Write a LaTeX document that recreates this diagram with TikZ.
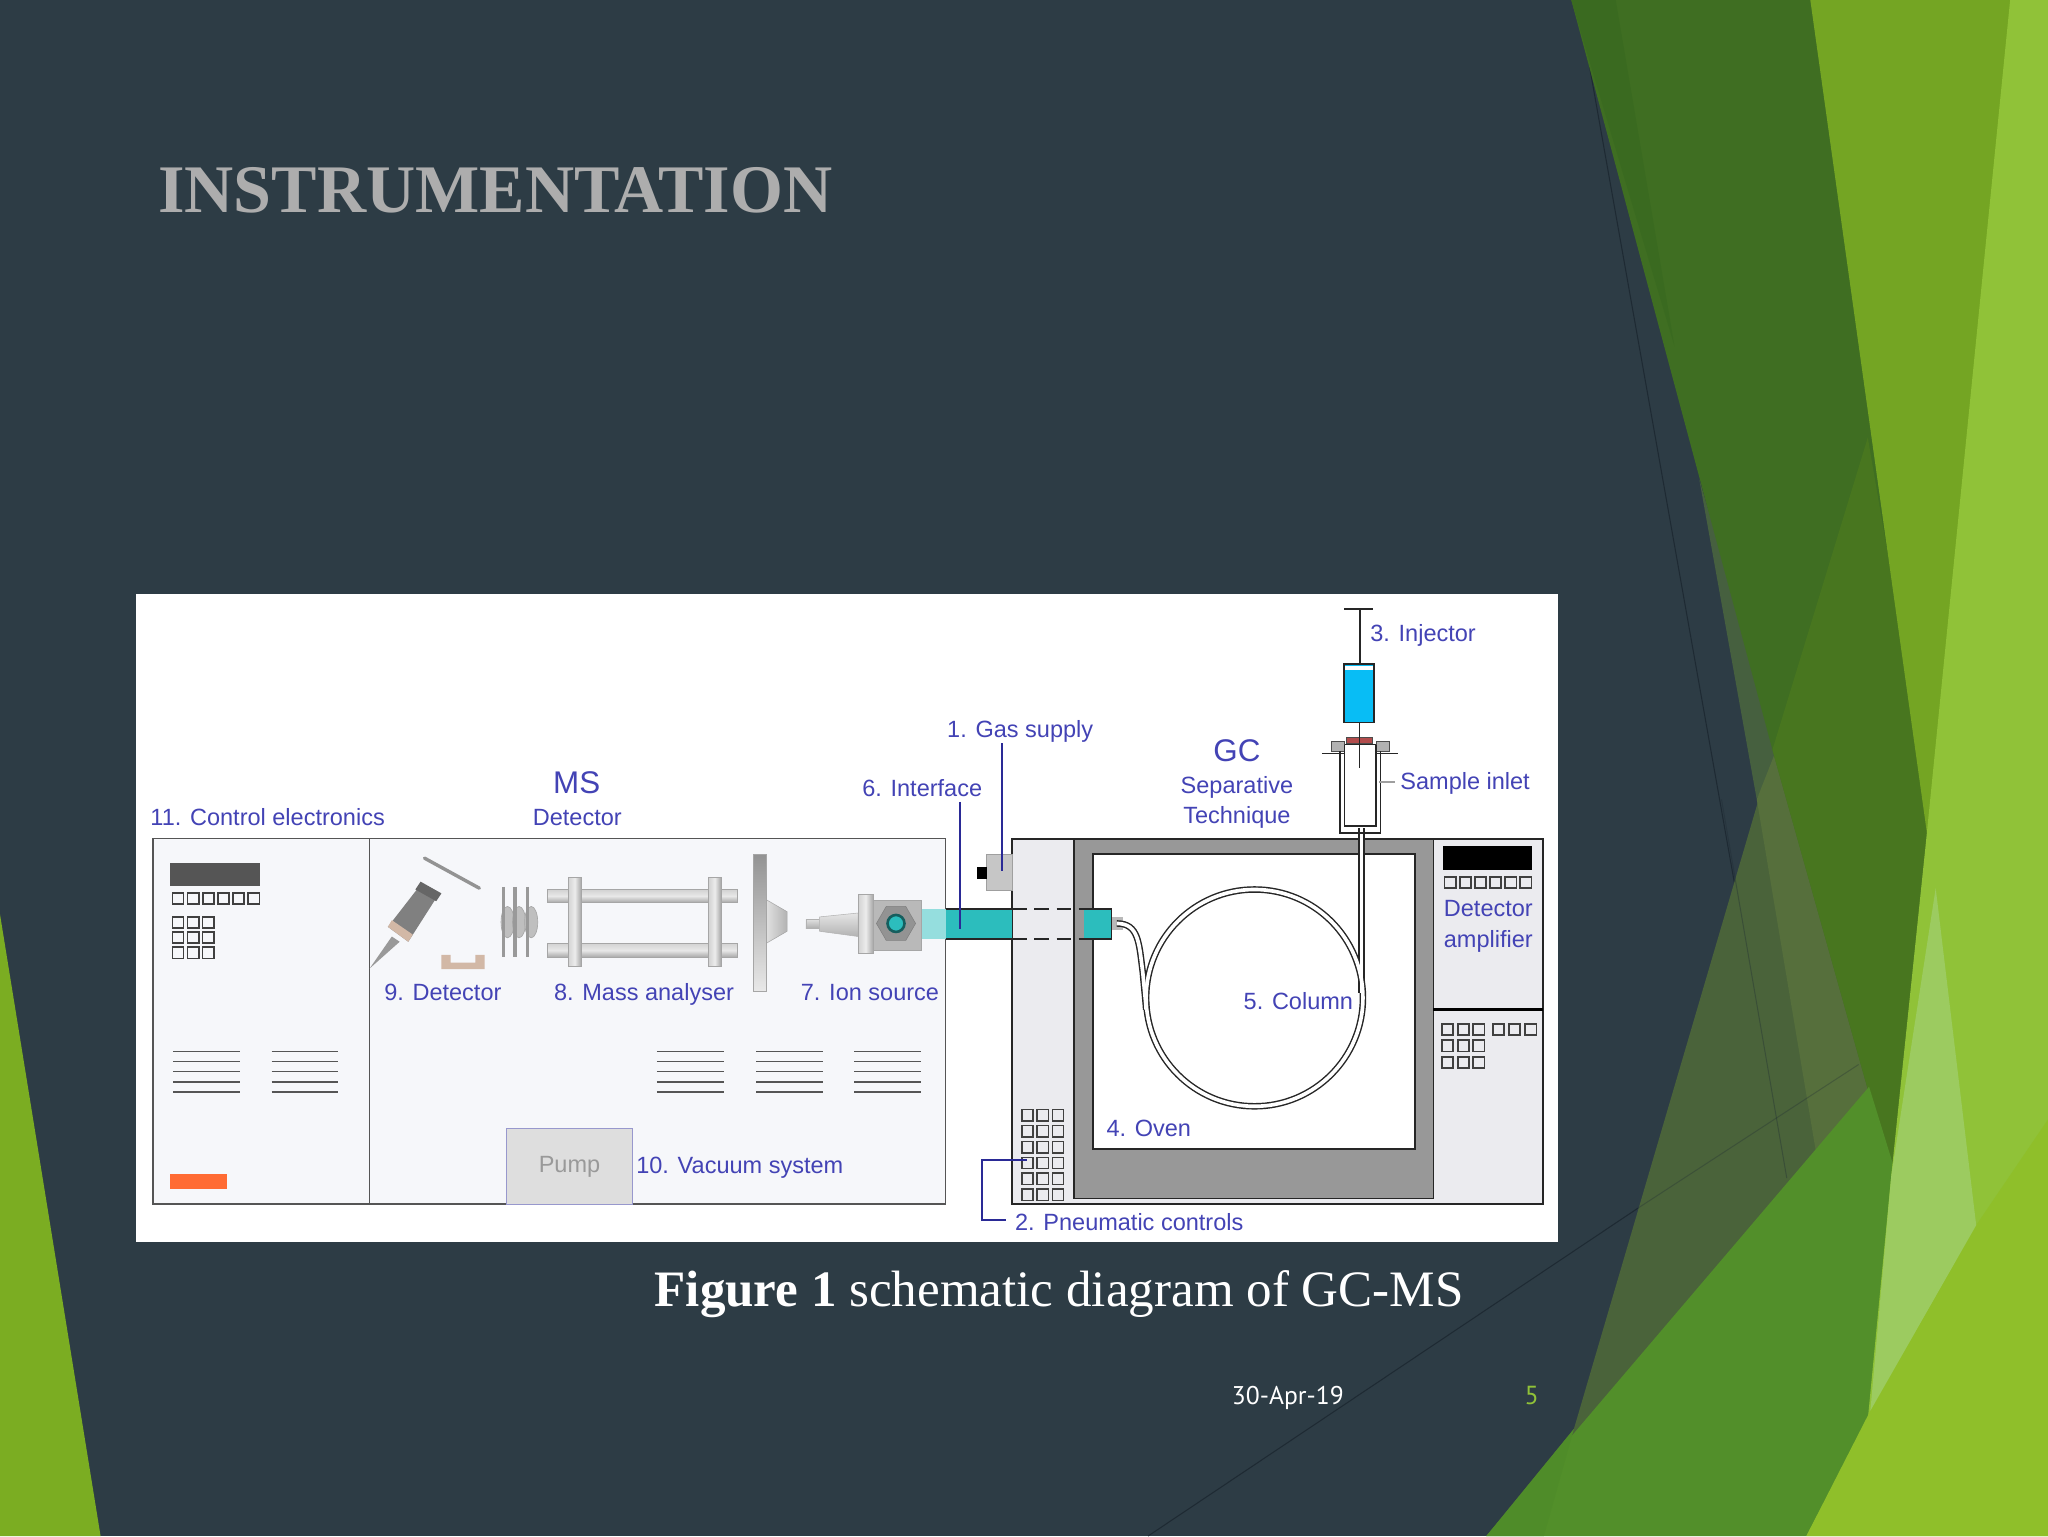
\documentclass[tikz,border=0pt]{standalone}
\usepackage{fontspec}
\setmainfont{Liberation Serif}
\newfontfamily\labfont{Liberation Sans}
\newfontfamily\footfont{PT Sans}
\usetikzlibrary{shapes.geometric}
\definecolor{bgc}{HTML}{2D3C45}
\definecolor{labc}{HTML}{4343B5}
\definecolor{leadc}{HTML}{2A2A96}
\definecolor{panelc}{HTML}{F6F7FA}
\definecolor{linec}{HTML}{555555}
\definecolor{gcc}{HTML}{EBEBEF}
\definecolor{ovenc}{HTML}{989898}
\definecolor{tanc}{HTML}{D2B8A6}
\definecolor{tealc}{HTML}{2CBDBD}
\definecolor{titlec}{HTML}{ADADAD}
\definecolor{thinc}{HTML}{1E2A33}
\definecolor{wedgec}{HTML}{7BAD22}
\definecolor{barrelc}{HTML}{08BDF5}
\tikzset{
  lab/.style={font=\labfont\fontsize{18}{20}\selectfont,text=labc,inner sep=0pt,anchor=mid west},
  labc/.style={font=\labfont\fontsize{18}{20}\selectfont,text=labc,inner sep=0pt,anchor=mid},
  biglab/.style={font=\labfont\fontsize{24}{26}\selectfont,text=labc,inner sep=0pt,anchor=mid},
  leader/.style={draw=leadc,line width=1.5pt},
  sq/.style={draw=black!75,line width=1.3pt,fill=none},
  vent/.style={draw=linec,line width=1.1pt},
  box/.style={draw=linec,line width=1.3pt},
  dbox/.style={draw=black!85,line width=1.5pt},
  hrod/.style={top color=gray!35,bottom color=gray!70,middle color=gray!18,draw=gray!70,line width=.4pt},
  vrod/.style={left color=gray!35,right color=gray!70,middle color=gray!15,draw=gray!70,line width=.4pt},
  column/.style={draw=black!85,line width=5pt},
  columnin/.style={draw=white,line width=2.8pt},
  thinline/.style={draw=thinc,line width=.8pt},
}
\newcommand{\sqgrid}[6]{% x y cols rows pitchx pitchy
  \foreach \ci in {1,...,#3}{\foreach \cj in {1,...,#4}{
    \draw[sq] ({#1+(\ci-1)*#5},{#2+(\cj-1)*#6}) rectangle ++(8.6,8.6);}}}
\newcommand{\ventlines}[2]{% x y
  \foreach \cj in {0,...,4}{\draw[vent] (#1,{#2+\cj*7.75}) -- ++(51,0);}}
\begin{document}
\begin{tikzpicture}[x=1pt,y=-1pt]
\useasboundingbox (0,0) rectangle (1568,1176);
\fill[bgc] (0,0) rectangle (1568,1176);
% left wedge
\fill[wedgec] (0,700) -- (77,1176) -- (0,1176) -- cycle;
% thin lines behind greens
\draw[thinline] (1217,51) -- (1368,902);
\draw[thinline] (879,1176) -- (1254,925);
% right greens
\definecolor{g1}{HTML}{3F6E22}
\definecolor{g1b}{HTML}{3A6A20}
\definecolor{g1c}{HTML}{48761F}
\definecolor{g2}{HTML}{74A523}
\definecolor{g3}{HTML}{90C238}
\definecolor{g3b}{HTML}{8FBF2A}
\definecolor{g4}{HTML}{9CCB60}
\definecolor{g5}{HTML}{528F2A}
\definecolor{g5b}{HTML}{4F8C29}
\definecolor{g6}{HTML}{4A633A}
\definecolor{g6b}{HTML}{566F3C}
\definecolor{g6c}{HTML}{46603F}
% grey-green translucent
\fill[g6] (1350,600) -- (1205,1094) -- (1138,1176) -- (1436,835) -- (1376,612) -- cycle;
\fill[g6c] (1301,367) -- (1362,574) -- (1345,612) -- cycle;
\fill[g6b] (1360,574) -- (1345,612) -- (1390,880) -- (1436,835) -- cycle;
% thin lines visible over translucent
\draw[thinline,opacity=.35] (1318,612) -- (1368,902);
\draw[thinline,opacity=.3] (1254,925) -- (1423,815);
% dark polygon
\fill[g1] (1203,0) -- (1395,0) -- (1484,650) -- (1450,905) -- (1357,574) -- cycle;
\fill[g1b] (1203,0) -- (1237,0) -- (1282,265) -- cycle;
\fill[g1c] (1430,335) -- (1357,574) -- (1450,905) -- (1484,650) -- cycle;
% mid green
\fill[g2] (1386,0) -- (1540,0) -- (1477,650) -- cycle;
% big bright green
\fill[g5] (1138,1176) -- (1431,832) -- (1452,900) -- (1432,1087) -- (1383,1176) -- cycle;
\fill[g5b] (1138,1176) -- (1205,1094) -- (1182,1176) -- cycle;
% lime band
\fill[g3] (1539,0) -- (1568,0) -- (1568,1176) -- (1383,1176) -- (1430,1087) -- (1448,900) -- (1474,650) -- cycle;
\fill[g3b] (1568,857) -- (1513,938) -- (1432,1080) -- (1383,1176) -- (1568,1176) -- cycle;
\fill[g4] (1482,680) -- (1513,938) -- (1432,1080) -- (1448,900) -- cycle;
% footer and title
\node[inner sep=0pt,anchor=base west,font=\bfseries\fontsize{52.1}{56}\selectfont,text=titlec] (title) at (121,163) {INSTRUMENTATION};
\node[inner sep=0pt,anchor=base west,text=white,font=\fontsize{39.1}{42}\selectfont] (cap) at (501,1000) {\textbf{Figure 1} schematic diagram of GC-MS};
\node[inner sep=0pt,anchor=base west,text=white,font=\footfont\fontsize{19.6}{22}\selectfont] (date) at (943,1075) {30-Apr-19};
\node[inner sep=0pt,anchor=base west,text=g3,font=\footfont\fontsize{20}{22}\selectfont] (num) at (1167,1075) {5};
% ---- white panel
\fill[white] (104,455) rectangle (1193,951);
% left cabinets
\draw[box,fill=panelc] (117,642) rectangle (283,922);
\draw[box,fill=panelc] (283,642) rectangle (724,922);
\fill[linec] (130,661) rectangle (199,678);
\sqgrid{132}{683.5}{6}{1}{11.6}{0}
\sqgrid{132}{702}{3}{3}{11.5}{11.6}
\ventlines{132.7}{805}
\ventlines{208}{805}
\ventlines{503}{805}
\ventlines{579}{805}
\ventlines{654}{805}
\fill[orange!55!red!80!white] (130,899) rectangle (174,910);
% detector
\draw[gray!85,line width=2.6pt,line cap=round] (325,657) -- (367,680);
\fill[gray!80] (283,741.5) -- (300,717) -- (306,721) -- cycle;
\fill[black!50] (321.5,678) -- (335.6,685) -- (312.6,721) -- (297,709.6) -- cycle;
\fill[black!60] (322,675) -- (338,684) -- (334,690) -- (318,681) -- cycle;
\fill[tanc] (300,704.5) -- (316,715.5) -- (312.6,721) -- (297,709.6) -- cycle;
\fill[tanc] (338,731) -- (345,731) -- (345,737) -- (364,737) -- (364,731) -- (371,731) -- (371,742) -- (338,742) -- cycle;
% lenses
\foreach \lx in {385.6,394.4,403.7}{
  \fill[gray!50,draw=gray!70,line width=.5pt] (\lx+3,706) ellipse (5 and 12);
  \draw[gray!80,line width=2.6pt] (\lx,679) -- (\lx,733);
}
% mass analyser
\shade[hrod] (419,681) rectangle (564.5,691);
\shade[hrod] (419,722) rectangle (564.5,733);
\shade[vrod] (435,672) rectangle (445,739.5);
\shade[vrod] (542.5,672) rectangle (552,739.5);
% plate and cone
\shade[left color=gray!25,right color=gray!60,draw=gray!70,line width=.4pt] (587,689) -- (602.6,698) -- (602.6,713) -- (587,722) -- cycle;
\shade[top color=gray!85,bottom color=gray!18,draw=gray!70,line width=.4pt] (577,654) rectangle (587,758.6);
% ion source
\shade[top color=gray!25,bottom color=gray!65,draw=gray!60,line width=.4pt] (617,704) rectangle (627.5,711);
\shade[top color=gray!20,bottom color=gray!60,draw=gray!60,line width=.4pt] (627.5,702) -- (657,699) -- (657,717) -- (627.5,713) -- cycle;
\fill[tealc!50!white] (705,696) rectangle (724,719);
\shade[vrod] (657,685) rectangle (668.5,730);
\fill[gray!55,draw=gray!70,line width=.5pt] (668.5,689) rectangle (705,727.5);
\node[regular polygon,regular polygon sides=6,fill=gray!85,draw=black!50,minimum size=30pt,inner sep=0pt] (nut) at (686,707) {};
\node[circle,fill=tealc,draw=black!50!tealc,line width=2pt,minimum size=13pt,inner sep=0pt] (nutc) at (686,707) {};
% GC cabinet
\draw[dbox,fill=gcc] (775,642) rectangle (1181,922);
\draw[dbox,fill=ovenc] (822,642) rectangle (1097.5,917.6);
\draw[dbox,fill=white] (837,654) rectangle (1083,880);
\draw[black,line width=2.4pt] (1097.5,773) -- (1181,773);
\fill[black] (1105,648) rectangle (1173,666);
\sqgrid{1106}{671.5}{6}{1}{11.6}{0}
\sqgrid{1104}{784}{3}{3}{12}{12.5}
\sqgrid{1143}{784}{3}{1}{12.4}{0}
\sqgrid{782.5}{849.5}{3}{6}{11.6}{12.2}
% gas supply
\fill[gray!45,draw=gray!75,line width=.6pt] (755.4,654) rectangle (775,681.5);
\fill[black] (748,664) rectangle (756,673);
% interface
\fill[tealc] (724,696) rectangle (775,719);
\fill[tealc] (830,696) rectangle (851,719);
\draw[black!85,line width=1.3pt] (724,696) -- (775,696) (724,719) -- (775,719);
\draw[black!85,line width=1.3pt] (830,696) -- (851,696) -- (851,719) -- (830,719);
\draw[black!85,line width=1.3pt,dash pattern=on 11pt off 6pt] (775,696) -- (830,696);
\draw[black!85,line width=1.3pt,dash pattern=on 11pt off 6pt] (775,719) -- (830,719);
\fill[gray!55] (851,702) rectangle (860,712);
% column
\draw[column] (855,707) .. controls (872,707) and (872,722) .. (875,745) .. controls (876,757) and (877,765) .. (877.5,773);
\draw[column] (960.5,764) circle (83);
\draw[column] (1042.5,634) -- (1042.5,760);
\draw[columnin] (855,707) .. controls (872,707) and (872,722) .. (875,745) .. controls (876,757) and (877,765) .. (877.5,773);
\draw[columnin] (960.5,764) circle (83);
\draw[columnin] (1042.5,634) -- (1042.5,760);
% injector
\draw[black!85,line width=1.3pt] (1029,466) -- (1051,466);
\draw[black!85,line width=1.1pt] (1041.4,466) -- (1041.4,508.5);
\fill[barrelc] (1029,508.5) rectangle (1052,553);
\fill[white] (1030,510) rectangle (1051,513);
\draw[black!85,line width=1.2pt] (1029,508.5) rectangle (1052,553);
\fill[gray!60,draw=black!70,line width=.7pt] (1019,568) rectangle (1029,575);
\fill[gray!60,draw=black!70,line width=.7pt] (1054,568) rectangle (1064,575);
\fill[red!40!gray,draw=black!70,line width=.5pt] (1031,564.5) rectangle (1050.6,569);
\draw[black!85,line width=1.2pt] (1012,577) -- (1029,577) (1054,577) -- (1070,577);
\draw[black!85,line width=1.1pt] (1041,553) -- (1041,588);
\draw[black!85,line width=1.2pt] (1026,575) -- (1026,637.6) -- (1057,637.6) -- (1057,575);
\draw[black!85,line width=1.2pt] (1029.5,570) -- (1029.5,632.5) -- (1053.5,632.5) -- (1053.5,570);
\draw[black!85,line width=1.2pt] (1029.5,570) -- (1053.5,570);
\draw[gray!75,line width=1.6pt] (1056,598.6) -- (1068,598.6);
% labels
\node[lab] (l11) at (115,629.5) {11. Control electronics};
\node[biglab] (ms) at (441.5,605) {MS};
\node[labc] (msd) at (442,629.5) {Detector};
\node[lab] (l9) at (294,763.5) {9. Detector};
\node[lab] (l8) at (424,763.5) {8. Mass analyser};
\node[lab] (l7) at (613,763.5) {7. Ion source};
\node[lab] (l6) at (660,607.5) {6. Interface};
\node[lab] (l1) at (725,562) {1. Gas supply};
\node[biglab] (gc) at (947,581) {GC};
\node[labc] (gc1) at (947,605.5) {Separative};
\node[labc] (gc2) at (947,628.5) {Technique};
\node[lab] (l3) at (1049,489) {3. Injector};
\node[lab] (linlet) at (1072,602.5) {Sample inlet};
\node[labc] (da1) at (1139.5,699.5) {Detector};
\node[labc] (da2) at (1139.5,723.5) {amplifier};
\node[lab] (l5) at (952,770.5) {5. Column};
\node[lab] (l4) at (847,867.5) {4. Oven};
\node[lab] (l2) at (777,939.5) {2. Pneumatic controls};
\node[lab] (l10) at (487,896.5) {10. Vacuum system};
\node[draw=blue!35!gray!60,line width=.8pt,fill=black!13,minimum width=96pt,minimum height=58pt,inner sep=0pt,font=\labfont\fontsize{18}{20}\selectfont,text=gray!80] (pump) at (436,893) {Pump};
% leaders
\coordinate (gasA) at (767.5,569);
\coordinate (gasB) at (767.5,667);
\coordinate (intA) at (735,614);
\coordinate (intB) at (735,711);
\coordinate (pnA) at (786,888);
\coordinate (pnB) at (770,934);
\draw[leader] (gasA) -- (gasB);
\draw[leader] (intA) -- (intB);
\draw[leader] (pnA) -- (752,888) -- (752,934) -- (pnB);
\end{tikzpicture}
\end{document}
